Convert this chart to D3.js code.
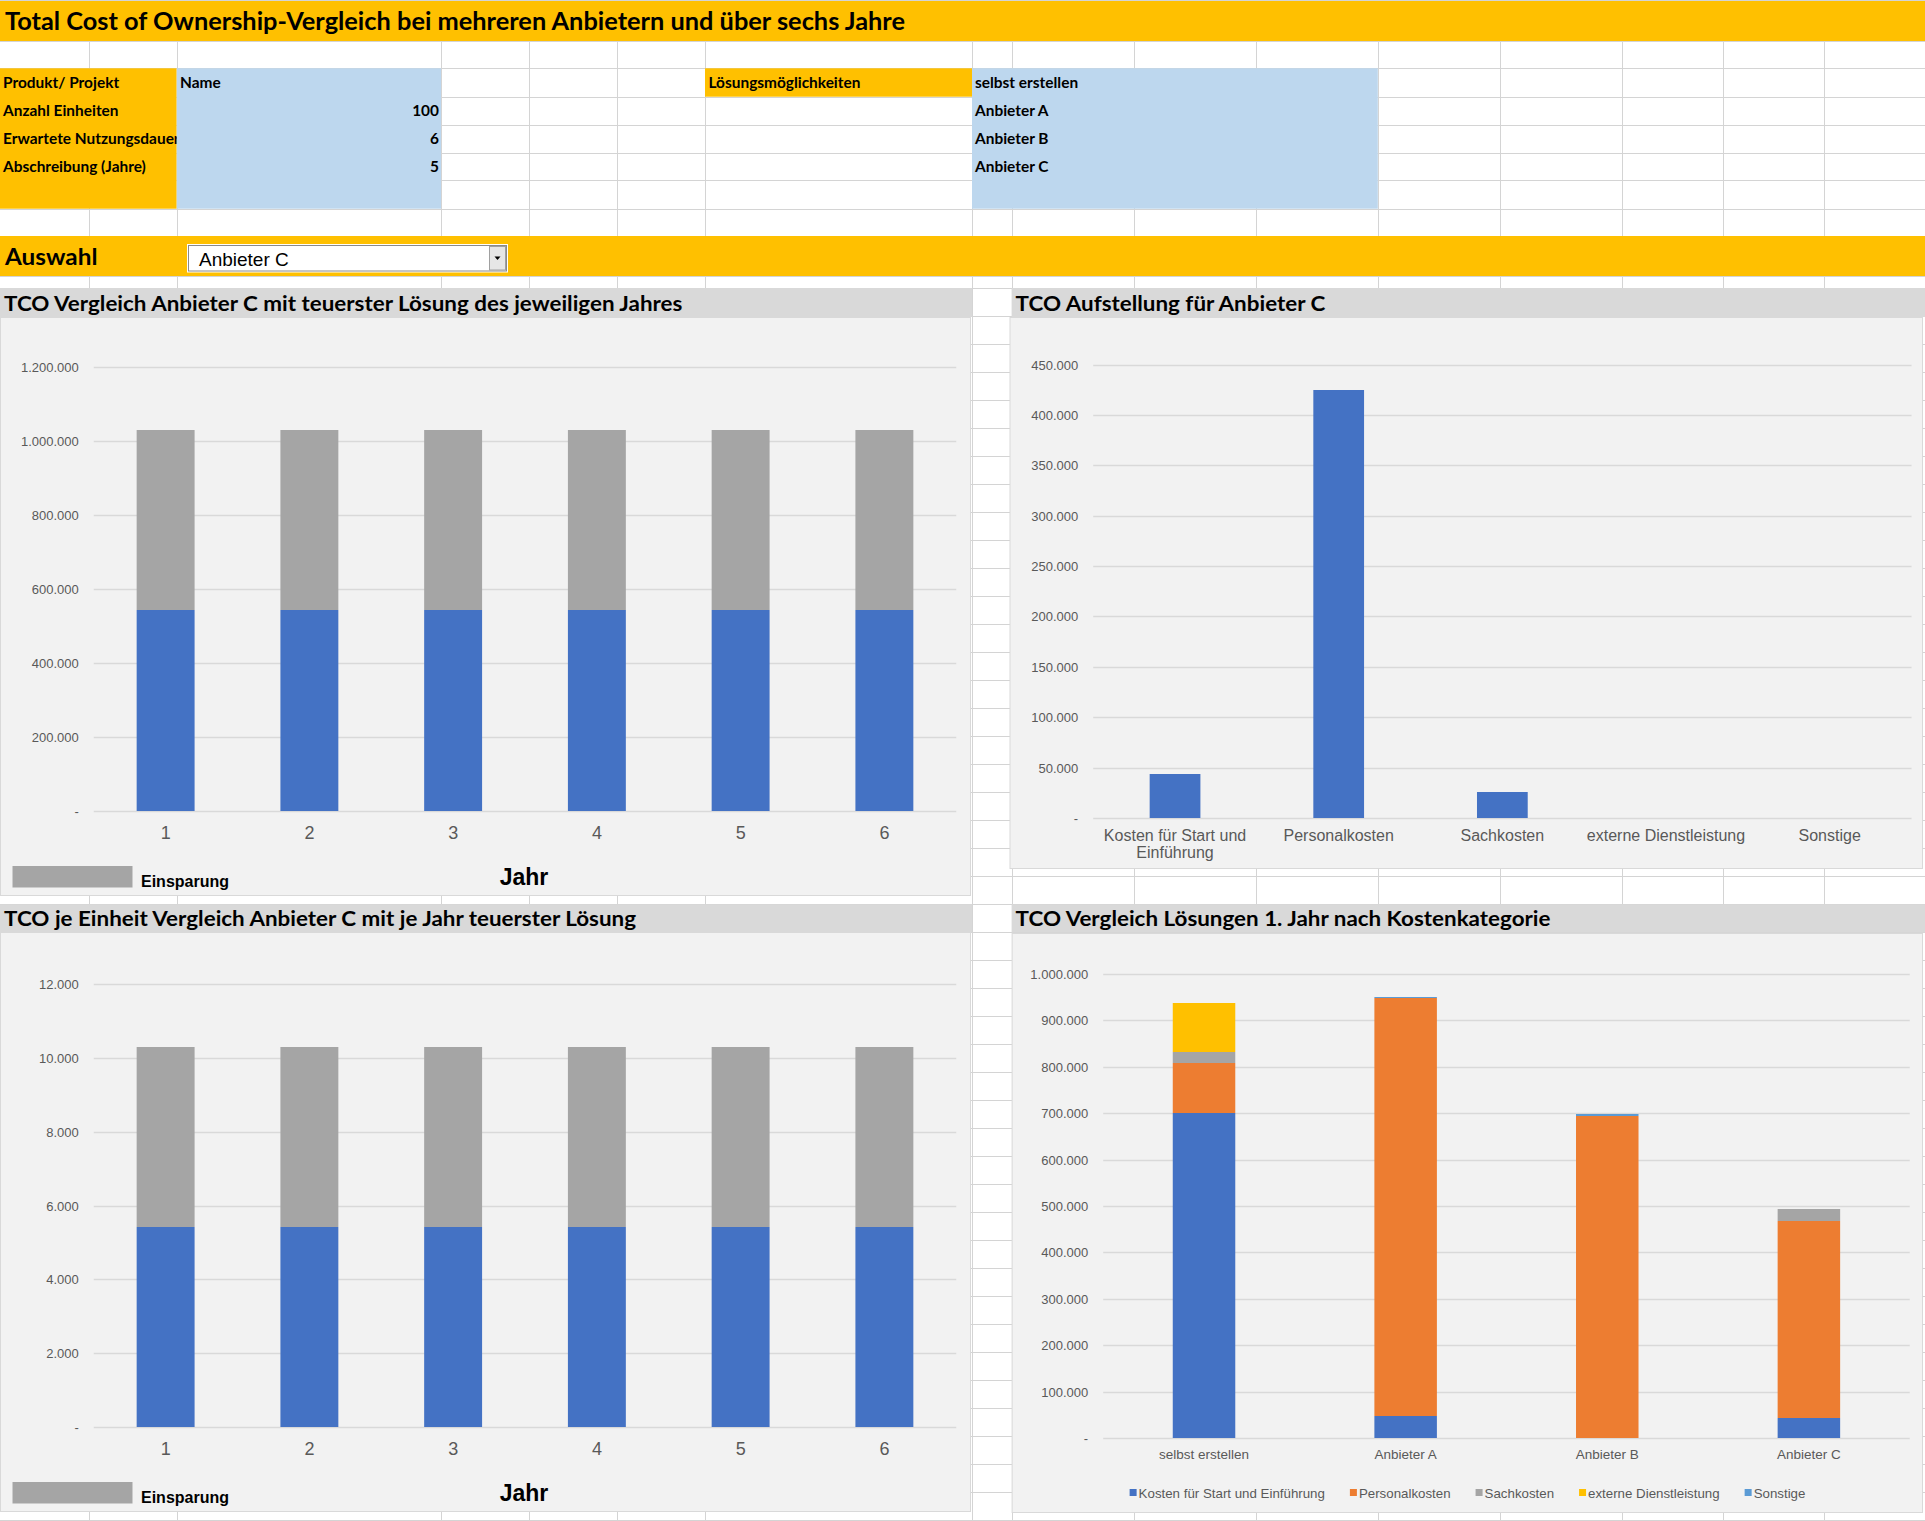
<!DOCTYPE html>
<html>
<head>
<meta charset="utf-8">
<script src="https://cdn.jsdelivr.net/npm/d3@7"></script>
<style>
  html, body { margin: 0; padding: 0; background: #fff; }
  svg { display: block; }
</style>
</head>
<body>
<svg id="sheet" width="1925" height="1521"></svg>
<script>
// =========================
// DATEN
// =========================
const titel = "Total Cost of Ownership-Vergleich bei mehreren Anbietern und über sechs Jahre";
const projektLabels = ["Produkt/ Projekt", "Anzahl Einheiten", "Erwartete Nutzungsdauer", "Abschreibung (Jahre)"];
const projektWerte = ["Name", "100", "6", "5"];
const loesungen = ["selbst erstellen", "Anbieter A", "Anbieter B", "Anbieter C"];
const auswahl = "Anbieter C";

// TCO Vergleich Anbieter C mit teuerster Lösung
const jahre = [1, 2, 3, 4, 5, 6];
const tcoAnbieterC = [543000, 543000, 543000, 543000, 543000, 543000];
const tcoEinsparung = [487000, 487000, 487000, 487000, 487000, 487000];
const ticksTco = [0, 200000, 400000, 600000, 800000, 1000000, 1200000];

// TCO je Einheit
const einheitAnbieterC = [5430, 5430, 5430, 5430, 5430, 5430];
const einheitEinsparung = [4870, 4870, 4870, 4870, 4870, 4870];
const ticksEinheit = [0, 2000, 4000, 6000, 8000, 10000, 12000];

// TCO Aufstellung für Anbieter C
const kostenkategorien = ["Kosten für Start und Einführung", "Personalkosten", "Sachkosten", "externe Dienstleistung", "Sonstige"];
const aufstellungAnbieterC = [43800, 424600, 25600, 0, 0];
const ticksAufstellung = [0, 50000, 100000, 150000, 200000, 250000, 300000, 350000, 400000, 450000];

// TCO Vergleich Lösungen 1. Jahr nach Kostenkategorie
const kostenStart = [700000, 47500, 0, 43800];
const personalkosten = [108000, 900500, 694800, 424600];
const sachkosten = [24000, 0, 0, 25600];
const externeDienstleistung = [105500, 0, 0, 0];
const sonstige = [0, 2100, 4300, 0];
const ticksVergleich = [0, 100000, 200000, 300000, 400000, 500000, 600000, 700000, 800000, 900000, 1000000];

// =========================
// FARBEN / SCHRIFTEN
// =========================
const GELB = "#ffc000", HELLBLAU = "#bdd7ee", GRID = "#d4d4d4";
const BLAU = "#4472c4", ORANGE = "#ed7d31", GRAU = "#a5a5a5", SONST = "#5b9bd5";
const ARIAL = "'Liberation Sans', Arial, sans-serif";
const CAL = "Lato, 'Open Sans', sans-serif";

const W = 1925, H = 1521;
const svg = d3.select("#sheet");

const de = d3.formatLocale({ decimal: ",", thousands: ".", grouping: [3], currency: ["", ""] });
const fmt = de.format(",.0f");
const tickFmt = v => v === 0 ? "-" : fmt(v);

function cal(sel, size) {
  return sel.classed("cal", true)
    .style("font-family", CAL)
    .style("font-weight", "bold")
    .style("font-size", size + "px")
    .attr("fill", "#000");
}

// =========================
// TABELLENRASTER
// =========================
const colLines = [88.6, 176.7, 441, 529, 617, 705, 972, 1011.6, 1133.5, 1255.5, 1377.8, 1499.8, 1621.7, 1722.6, 1823.7];
const rowLines = [41, 68.3, 96.7, 124.7, 152.7, 180.3, 208.7, 236, 276].concat(d3.range(288, H, 28));

svg.append("rect").attr("width", W).attr("height", H).attr("fill", "#fff");

svg.append("g").selectAll("line").data(colLines).join("line")
  .attr("x1", d => Math.round(d) + 0.5).attr("x2", d => Math.round(d) + 0.5)
  .attr("y1", 0).attr("y2", H)
  .attr("stroke", GRID);

svg.append("g").selectAll("line").data(rowLines).join("line")
  .attr("y1", d => Math.round(d) + 0.5).attr("y2", d => Math.round(d) + 0.5)
  .attr("x1", 0).attr("x2", W)
  .attr("stroke", GRID);

svg.append("line").attr("x1", 0).attr("x2", W).attr("y1", 0.5).attr("y2", 0.5).attr("stroke", GRID);

// Titelzeile
svg.append("rect").attr("x", 0).attr("y", 1).attr("width", W).attr("height", 40).attr("fill", GELB);
const titleText = svg.append("text").attr("x", 5).attr("y", 29.5).text(titel);
cal(titleText, 24);

// Eingabeblock links
svg.append("rect").attr("x", 0).attr("y", 68.3).attr("width", 176.7).attr("height", 140.4).attr("fill", GELB);
const rowBase = [87.5, 115.5, 143.5, 171.5];
projektLabels.forEach((t, i) => {
  cal(svg.append("text").attr("x", 3).attr("y", rowBase[i]).text(t), 14.6);
});
// blaue Zelle deckt den Überlauf von "Erwartete Nutzungsdauer" ab
svg.append("rect").attr("x", 176.7).attr("y", 68.3).attr("width", 264.3).attr("height", 140.4).attr("fill", HELLBLAU);
projektWerte.forEach((t, i) => {
  const isNum = i > 0;
  cal(svg.append("text")
    .attr("x", isNum ? 439 : 180)
    .attr("y", rowBase[i])
    .attr("text-anchor", isNum ? "end" : "start")
    .text(t), 14.6);
});

// Lösungsmöglichkeiten
svg.append("rect").attr("x", 705).attr("y", 68.3).attr("width", 267).attr("height", 28.4).attr("fill", GELB);
cal(svg.append("text").attr("x", 708.5).attr("y", rowBase[0]).text("Lösungsmöglichkeiten"), 14.6);
svg.append("rect").attr("x", 972).attr("y", 68.3).attr("width", 405.8).attr("height", 140.4).attr("fill", HELLBLAU);
loesungen.forEach((t, i) => {
  cal(svg.append("text").attr("x", 975).attr("y", rowBase[i]).text(t), 14.6);
});

// Auswahlzeile
svg.append("rect").attr("x", 0).attr("y", 236).attr("width", W).attr("height", 40).attr("fill", GELB);
cal(svg.append("text").attr("x", 5).attr("y", 265).text("Auswahl"), 23);

const dd = svg.append("g").attr("transform", "translate(188,245)");
dd.append("rect").attr("x", -0.5).attr("y", -0.5).attr("width", 320).attr("height", 27.5).attr("fill", "#fff").attr("stroke", "#fff");
dd.append("rect").attr("x", 0.5).attr("y", 0.5).attr("width", 318).attr("height", 25.5).attr("fill", "#fff").attr("stroke", "#8a8a8a");
dd.append("rect").attr("x", 301.5).attr("y", 1.5).attr("width", 16).attr("height", 23.5).attr("fill", "#e6e6e6").attr("stroke", "#a0a0a0");
dd.append("path").attr("d", "M306.5,11.5 L312.5,11.5 L309.5,15 Z").attr("fill", "#000");
dd.append("text").attr("x", 11).attr("y", 21)
  .style("font-family", ARIAL).style("font-size", "19px").attr("fill", "#000")
  .text(auswahl);

// =========================
// DIAGRAMME
// =========================
function frame(titleBox, area, title) {
  svg.append("rect").attr("x", titleBox[0]).attr("y", titleBox[1])
    .attr("width", titleBox[2] - titleBox[0]).attr("height", titleBox[3] - titleBox[1])
    .attr("fill", "#d9d9d9");
  cal(svg.append("text").attr("x", titleBox[0] + 4).attr("y", titleBox[3] - 6.5).text(title), 21.2);
  svg.append("rect").attr("x", area[0] + 0.5).attr("y", area[1] + 0.5)
    .attr("width", area[2] - area[0] - 1).attr("height", area[3] - area[1] - 1)
    .attr("fill", "#f2f2f2").attr("stroke", "#d9d9d9");
}

// Kategorienamen auf mehrere Zeilen umbrechen
function wrapLabels(texts, width, lineHeight) {
  texts.each(function () {
    const text = d3.select(this);
    const words = text.text().split(/\s+/);
    const yAttr = text.attr("y");
    const dyEm = parseFloat(text.attr("dy"));
    const size = parseFloat(text.style("font-size"));
    text.text(null);
    let line = [];
    let n = 0;
    let tspan = text.append("tspan").attr("x", 0).attr("y", yAttr).attr("dy", (dyEm * size) + "px");
    words.forEach(w => {
      line.push(w);
      tspan.text(line.join(" "));
      if (tspan.node().getComputedTextLength() > width && line.length > 1) {
        line.pop();
        tspan.text(line.join(" "));
        line = [w];
        n++;
        tspan = text.append("tspan").attr("x", 0).attr("y", yAttr)
          .attr("dy", (dyEm * size + n * lineHeight) + "px").text(w);
      }
    });
  });
}

function drawBarChart(cfg) {
  const g = svg.append("g");
  const x = d3.scaleBand().domain(cfg.categories).range(cfg.xRange)
    .paddingInner(cfg.pad).paddingOuter(cfg.pad / 2);
  const y = d3.scaleLinear().domain([0, d3.max(cfg.ticks)]).rangeRound(cfg.yRange);

  const yAxis = g.append("g").attr("transform", `translate(${cfg.xRange[0]},0)`)
    .call(d3.axisLeft(y).tickValues(cfg.ticks).tickFormat(tickFmt)
      .tickSize(-(cfg.xRange[1] - cfg.xRange[0])).tickPadding(15));
  yAxis.select(".domain").remove();
  yAxis.selectAll(".tick line").attr("stroke", "#d9d9d9").attr("stroke-width", 1.4);
  yAxis.selectAll(".tick text").attr("fill", "#595959")
    .style("font-family", ARIAL).style("font-size", "13px");

  const rows = cfg.categories.map((c, i) => {
    const r = { cat: c };
    cfg.series.forEach(s => { r[s.name] = s.values[i]; });
    return r;
  });
  const stacked = d3.stack().keys(cfg.series.map(s => s.name))(rows);

  g.append("g").selectAll("g").data(stacked).join("g")
    .attr("fill", (d, i) => cfg.series[i].color)
    .selectAll("rect").data(d => d).join("rect")
    .attr("x", d => x(d.data.cat))
    .attr("width", x.bandwidth())
    .attr("y", d => y(d[1]))
    .attr("height", d => Math.max(0, y(d[0]) - y(d[1])));

  const xAxis = g.append("g").attr("transform", `translate(0,${cfg.yRange[0]})`)
    .call(d3.axisBottom(x).tickSize(0).tickPadding(cfg.labelPad));
  xAxis.select(".domain").remove();
  const labels = xAxis.selectAll(".tick text").attr("fill", "#595959")
    .style("font-family", ARIAL).style("font-size", cfg.labelSize + "px");
  if (cfg.wrap) wrapLabels(labels, x.step(), cfg.lineHeight);
  return { g, x, y };
}

function einsparungLegend(yRect, yText, yJahr) {
  svg.append("rect").attr("x", 12.5).attr("y", yRect).attr("width", 120).attr("height", 21.5).attr("fill", GRAU);
  svg.append("text").attr("x", 141).attr("y", yText)
    .style("font-family", ARIAL).style("font-weight", "bold").style("font-size", "16px")
    .attr("fill", "#000").text("Einsparung");
  svg.append("text").attr("x", 524).attr("y", yJahr).attr("text-anchor", "middle")
    .style("font-family", ARIAL).style("font-weight", "bold").style("font-size", "23px")
    .attr("fill", "#000").text("Jahr");
}

// Diagramm 1
frame([0, 288, 972, 317], [0, 317, 971, 896], "TCO Vergleich Anbieter C mit teuerster Lösung des jeweiligen Jahres");
drawBarChart({
  categories: jahre,
  series: [
    { name: "Anbieter C", values: tcoAnbieterC, color: BLAU },
    { name: "Einsparung", values: tcoEinsparung, color: GRAU }
  ],
  ticks: ticksTco,
  xRange: [93.75, 956.25], yRange: [811, 367],
  pad: 0.597, labelSize: 18, labelPad: 15.7
});
einsparungLegend(866, 887, 885);

// Diagramm 3
frame([0, 904.5, 972, 932.3], [0, 932, 971, 1512], "TCO je Einheit Vergleich Anbieter C mit je Jahr teuerster Lösung");
drawBarChart({
  categories: jahre,
  series: [
    { name: "Anbieter C", values: einheitAnbieterC, color: BLAU },
    { name: "Einsparung", values: einheitEinsparung, color: GRAU }
  ],
  ticks: ticksEinheit,
  xRange: [93.75, 956.25], yRange: [1427, 984],
  pad: 0.597, labelSize: 18, labelPad: 15.7
});
einsparungLegend(1482, 1503, 1501);

// Diagramm 2
frame([1011.6, 288, 1925, 317], [1009.5, 317, 1923, 869], "TCO Aufstellung für Anbieter C");
drawBarChart({
  categories: kostenkategorien,
  series: [{ name: "Anbieter C", values: aufstellungAnbieterC, color: BLAU }],
  ticks: ticksAufstellung,
  xRange: [1093.2, 1911.5], yRange: [818, 364.5],
  pad: 0.69, labelSize: 16, labelPad: 11.6, wrap: true, lineHeight: 17
});

// Diagramm 4
frame([1011.6, 904.5, 1925, 932.3], [1011.6, 933, 1923, 1513], "TCO Vergleich Lösungen 1. Jahr nach Kostenkategorie");
const serien4 = [
  { name: "Kosten für Start und Einführung", values: kostenStart, color: BLAU },
  { name: "Personalkosten", values: personalkosten, color: ORANGE },
  { name: "Sachkosten", values: sachkosten, color: GRAU },
  { name: "externe Dienstleistung", values: externeDienstleistung, color: GELB },
  { name: "Sonstige", values: sonstige, color: SONST }
];
drawBarChart({
  categories: loesungen,
  series: serien4,
  ticks: ticksVergleich,
  xRange: [1103.2, 1909.7], yRange: [1438, 974],
  pad: 0.69, labelSize: 13.5, labelPad: 11.4
});

// Legende Diagramm 4
const leg = svg.append("g");
const items = leg.selectAll("g").data(serien4).join("g");
items.append("rect").attr("x", 0).attr("y", -9).attr("width", 7).attr("height", 7).attr("fill", d => d.color);
items.append("text").attr("x", 9).attr("y", 0)
  .style("font-family", ARIAL).style("font-size", "13.3px").attr("fill", "#595959")
  .text(d => d.name);
let lx = 0;
items.each(function () {
  const w = this.querySelector("text").getComputedTextLength() + 9;
  d3.select(this).attr("transform", `translate(${lx},0)`);
  lx += w + 25;
});
const legW = lx - 25;
leg.attr("transform", `translate(${(1012 + 1923) / 2 - legW / 2},1498)`);

// =========================
// CALIBRI-BREITE
// =========================
const K = 900 / titleText.node().getComputedTextLength();
svg.selectAll("text.cal").each(function () {
  const l = this.getComputedTextLength();
  d3.select(this).attr("textLength", l * K).attr("lengthAdjust", "spacingAndGlyphs");
});
</script>
</body>
</html>
